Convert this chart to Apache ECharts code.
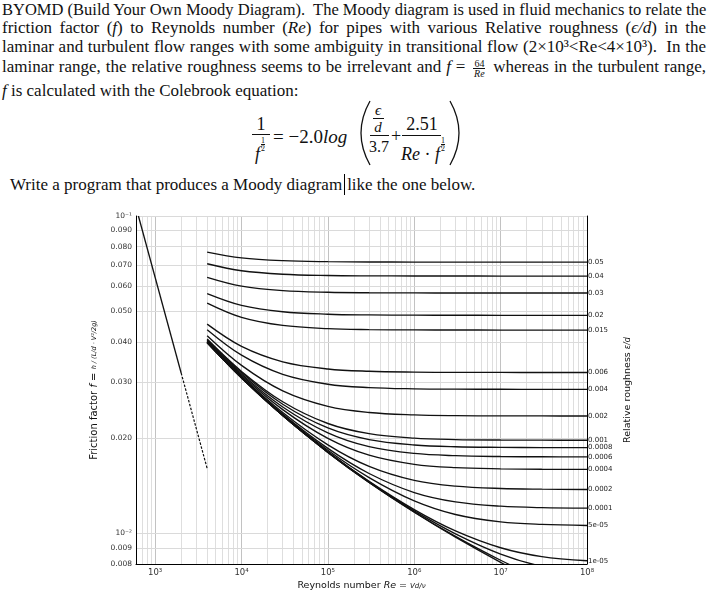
<!DOCTYPE html>
<html><head><meta charset="utf-8">
<script src="https://cdn.jsdelivr.net/npm/echarts@6/dist/echarts.min.js"></script>
<style>
html,body{margin:0;padding:0;background:#fff;}
#page{position:relative;width:711px;height:597px;overflow:hidden;font-family:"Liberation Serif","DejaVu Serif",serif;color:#111;}
.ln{position:absolute;left:2px;width:704px;font-size:17px;line-height:20px;white-space:nowrap;text-align:justify;text-align-last:justify;}
.ln.last{text-align:left;text-align-last:left;}
.fr{display:inline-block;vertical-align:middle;font-size:10px;line-height:9px;text-align:center;text-align-last:center;margin:0 3px;}
.fr .n{display:block;border-bottom:1px solid #111;padding:0 1px;}
.fr .d{display:block;font-style:italic;}
.e{position:absolute;transform:translate(-50%,-50%);font-size:18px;line-height:1;white-space:nowrap;}
.el{position:absolute;transform:translateY(-50%);font-size:19px;line-height:1;white-space:nowrap;}
.hf{display:inline-block;font-size:8px;line-height:7px;vertical-align:9px;text-align:center;margin-left:1px;}
.hf span{display:block}
.hf .t{border-bottom:1px solid #111;}
.cur{display:inline-block;width:0;height:21px;border-left:1px solid #000;vertical-align:-5px;margin:0 2px;}
#chart{position:absolute;left:0;top:0;width:711px;height:597px;}
</style></head>
<body>
<div id="page">
  <div class="ln j" style="top:0px">BYOMD (Build Your Own Moody Diagram).&nbsp; The Moody diagram is used in fluid mechanics to relate the</div>
  <div class="ln j" style="top:18px">friction factor (<i>f</i>) to Reynolds number (<i>Re</i>) for pipes with various Relative roughness (<i>ϵ/d</i>) in the</div>
  <div class="ln j" style="top:37px">laminar and turbulent flow ranges with some ambiguity in transitional flow (2×10³&lt;Re&lt;4×10³).&nbsp; In the</div>
  <div class="ln j" style="top:57px">laminar range, the relative roughness seems to be irrelevant and <i>f</i> = <span class="fr"><span class="n">64</span><span class="d">Re</span></span> whereas in the turbulent range,</div>
  <div class="ln last" style="top:81px"><i>f</i> is calculated with the Colebrook equation:</div>

  <svg width="711" height="200" style="position:absolute;left:0;top:0">
    <g stroke="#111" fill="none" stroke-width="1">
      <line x1="252" y1="134.5" x2="270" y2="134.5"/>
      <line x1="373" y1="118.5" x2="384" y2="118.5"/>
      <line x1="370" y1="135.5" x2="389" y2="135.5"/>
      <line x1="402" y1="135.5" x2="441" y2="135.5"/>
      <path d="M370,101 Q352,133 370,165" stroke-width="1.3"/>
      <path d="M450,101 Q468,133 450,165" stroke-width="1.3"/>
    </g>
  </svg>
  <div class="e" style="left:261px;top:124px">1</div>
  <div class="e" style="left:260px;top:150px"><i>f</i><span class="hf"><span class="t">1</span><span>2</span></span></div>
  <div class="el" style="left:273px;top:136px">=&nbsp;−2.0<i>log</i></div>
  <div class="e" style="left:378px;top:110px;font-size:15px"><i>ϵ</i></div>
  <div class="e" style="left:378px;top:127px;font-size:15px"><i>d</i></div>
  <div class="e" style="left:379px;top:147px;font-size:16px">3.7</div>
  <div class="e" style="left:396px;top:136px">+</div>
  <div class="e" style="left:422px;top:124px">2.51</div>
  <div class="e" style="left:423px;top:150px"><i>Re</i> · <i>f</i><span class="hf"><span class="t">1</span><span>2</span></span></div>

  <div class="ln last" style="left:10px;top:174px">Write a program that produces a Moody diagram<span class="cur"></span>like the one below.</div>

  <div id="chart"></div>
</div>
<script>
// ---- data ----
const reSamples = [4000, 10000, 30000, 100000, 300000, 1000000, 3000000, 10000000, 30000000, 100000000];
const roughnessLabels = ['0.05','0.04','0.03','0.02','0.015','0.006','0.004','0.002','0.001','0.0008','0.0006','0.0004','0.0002','0.0001','5e-05','1e-05','5e-06','1e-06','0'];
const f_0_05   = [0.07698, 0.07380, 0.07231, 0.07178, 0.07163, 0.07157, 0.07156, 0.07155, 0.07155, 0.07155];
const f_0_04   = [0.07071, 0.06720, 0.06553, 0.06493, 0.06476, 0.06470, 0.06468, 0.06467, 0.06467, 0.06467];
const f_0_03   = [0.06408, 0.06010, 0.05818, 0.05748, 0.05728, 0.05721, 0.05719, 0.05718, 0.05718, 0.05718];
const f_0_02   = [0.05695, 0.05228, 0.04991, 0.04903, 0.04877, 0.04868, 0.04865, 0.04864, 0.04864, 0.04864];
const f_0_015  = [0.05316, 0.04793, 0.04519, 0.04415, 0.04385, 0.04374, 0.04371, 0.04370, 0.04369, 0.04369];
const f_0_006  = [0.04561, 0.03881, 0.03471, 0.03295, 0.03240, 0.03220, 0.03214, 0.03213, 0.03212, 0.03212];
const f_0_004  = [0.04379, 0.03641, 0.03168, 0.02949, 0.02879, 0.02853, 0.02845, 0.02843, 0.02842, 0.02842];
const f_0_002  = [0.04193, 0.03381, 0.02810, 0.02511, 0.02402, 0.02361, 0.02348, 0.02344, 0.02343, 0.02342];
const f_0_001  = [0.04093, 0.03237, 0.02598, 0.02218, 0.02060, 0.01994, 0.01974, 0.01967, 0.01965, 0.01964];
const f_0_0008 = [0.04072, 0.03209, 0.02550, 0.02147, 0.01973, 0.01898, 0.01873, 0.01865, 0.01862, 0.01861];
const f_0_0006 = [0.04052, 0.03178, 0.02501, 0.02073, 0.01875, 0.01785, 0.01756, 0.01745, 0.01742, 0.01741];
const f_0_0004 = [0.04031, 0.03149, 0.02453, 0.01991, 0.01762, 0.01649, 0.01610, 0.01596, 0.01591, 0.01589];
const f_0_0002 = [0.04010, 0.03119, 0.02402, 0.01900, 0.01625, 0.01468, 0.01408, 0.01384, 0.01377, 0.01374];
const f_0_0001 = [0.04001, 0.03104, 0.02375, 0.01851, 0.01543, 0.01344, 0.01256, 0.01217, 0.01204, 0.01200];
const f_5e_5   = [0.03995, 0.03097, 0.02362, 0.01826, 0.01498, 0.01265, 0.01146, 0.01086, 0.01066, 0.01058];
const f_1e_5   = [0.03992, 0.03090, 0.02351, 0.01805, 0.01457, 0.01187, 0.01017, 0.00900, 0.00844, 0.00819];
const f_5e_6   = [0.03991, 0.03089, 0.02350, 0.01802, 0.01452, 0.01176, 0.00996, 0.00860, 0.00786, 0.00747];
const f_1e_6   = [0.03991, 0.03088, 0.02349, 0.01799, 0.01447, 0.01167, 0.00977, 0.00822, 0.00718, 0.00644];
const f_smooth = [0.03991, 0.03088, 0.02349, 0.01799, 0.01446, 0.01165, 0.00972, 0.00810, 0.00695, 0.00594];
const turbulentCurves = [f_0_05, f_0_04, f_0_03, f_0_02, f_0_015, f_0_006, f_0_004, f_0_002, f_0_001, f_0_0008,
  f_0_0006, f_0_0004, f_0_0002, f_0_0001, f_5e_5, f_1e_5, f_5e_6, f_1e_6, f_smooth];
const labelledCurveCount = 16;

const laminarRe = [640, 2000, 4000];
const laminarF  = [0.1, 0.032, 0.016];

const yTickValues = [0.1, 0.09, 0.08, 0.07, 0.06, 0.05, 0.04, 0.03, 0.02, 0.01, 0.009, 0.008];
const yTickLabels = ['10⁻¹','0.090','0.080','0.070','0.060','0.050','0.040','0.030','0.020','10⁻²','0.009','0.008'];
const xTickValues = [1e3, 1e4, 1e5, 1e6, 1e7, 1e8];
const xTickLabels = ['10³','10⁴','10⁵','10⁶','10⁷','10⁸'];
const xMinorGrid = [700,800,900, 2e3,3e3,4e3,5e3,6e3,7e3,8e3,9e3, 2e4,3e4,4e4,5e4,6e4,7e4,8e4,9e4,
  2e5,3e5,4e5,5e5,6e5,7e5,8e5,9e5, 2e6,3e6,4e6,5e6,6e6,7e6,8e6,9e6, 2e7,3e7,4e7,5e7,6e7,7e7,8e7,9e7];

// ---- fit justified paragraph lines ----
document.querySelectorAll('.ln.j').forEach(el => {
  const probe = document.createElement('span');
  probe.style.cssText = 'position:absolute;visibility:hidden;white-space:nowrap;font-size:17px;font-family:inherit';
  probe.innerHTML = el.innerHTML;
  document.getElementById('page').appendChild(probe);
  const w = probe.offsetWidth;
  probe.remove();
  if (w > 704) {
    el.style.width = w + 'px';
    el.style.textAlignLast = 'left';
    el.style.transformOrigin = '0 0';
    el.style.transform = 'scaleX(' + (704 / w) + ')';
  }
});

const chart = echarts.init(document.getElementById('chart'), null, {renderer: 'canvas'});
const axisFont = 'DejaVu Sans';
const series = [];

series.push({
  type: 'line', data: [[1000, 0.05]], showSymbol: false, symbol: 'none', silent: true,
  lineStyle: {opacity: 0}, z: 1,
  markLine: {
    z: 1, silent: true, symbol: 'none', animation: false, precision: 6,
    lineStyle: {type: 'solid', color: '#dedede', width: 1},
    label: {show: false},
    data: xMinorGrid.map(v => ({xAxis: v}))
  }
});
series.push({
  type: 'line', data: [[1000, 0.05]], showSymbol: false, symbol: 'none', silent: true,
  lineStyle: {opacity: 0}, z: 1,
  markLine: {
    z: 1, silent: true, symbol: 'none', animation: false, precision: 6,
    lineStyle: {type: 'solid', color: '#c2c2c2', width: 1},
    data: xTickValues.map((v, i) => ({
      xAxis: v,
      label: {show: true, position: 'start', formatter: xTickLabels[i], color: '#333', fontSize: 8.5, fontFamily: axisFont, distance: 4}
    })).concat(yTickValues.map((v, i) => ({
      yAxis: v,
      lineStyle: {color: '#dadada', width: 1.2},
      label: {show: true, position: 'start', formatter: yTickLabels[i], color: '#333', fontSize: 7.5, fontFamily: axisFont, distance: 4}
    })))
  }
});

turbulentCurves.forEach((curve, i) => {
  series.push({
    type: 'line',
    data: reSamples.map((r, j) => [r, curve[j]]),
    smooth: 0.35, symbol: 'none', showSymbol: false, clip: true, z: 10,
    lineStyle: {color: '#111', width: 1.35},
    endLabel: {
      show: i < labelledCurveCount, formatter: roughnessLabels[i], distance: 1,
      fontSize: 7, color: '#222', fontFamily: axisFont
    }
  });
});

series.push({
  type: 'line', data: [[laminarRe[0], laminarF[0]], [laminarRe[1], laminarF[1]]],
  symbol: 'none', showSymbol: false, z: 10, lineStyle: {color: '#111', width: 1.3}
});
series.push({
  type: 'line', data: [[laminarRe[1], laminarF[1]], [laminarRe[2], laminarF[2]]],
  symbol: 'none', showSymbol: false, z: 10, lineStyle: {color: '#111', width: 1.2, type: [2.5, 1.5]}
});

chart.setOption({
  animation: false,
  backgroundColor: 'transparent',
  grid: {left: 136, right: 124, top: 216, bottom: 33, containLabel: false, outerBoundsMode: 'none'},
  xAxis: {
    type: 'log', logBase: 10, min: 600, max: 1e8, z: 20,
    axisLine: {lineStyle: {color: '#000', width: 1}},
    axisTick: {show: false}, axisLabel: {show: false}, splitLine: {show: false}, minorSplitLine: {show: false},
    name: 'Reynolds number {i|Re} = {s|Vd/ν}', nameLocation: 'middle', nameGap: 17,
    nameTextStyle: {fontFamily: axisFont, fontSize: 9.5, color: '#111',
      rich: {i: {fontStyle: 'italic', fontFamily: axisFont, fontSize: 9.5}, s: {fontStyle: 'italic', fontFamily: axisFont, fontSize: 7}}}
  },
  yAxis: [{
    type: 'log', logBase: 10, min: 0.008, max: 0.1, position: 'left', z: 20,
    axisLine: {show: true, lineStyle: {color: '#000', width: 1}},
    axisTick: {show: false}, axisLabel: {show: false}, splitLine: {show: false},
    name: 'Friction factor {i|f} = {s|h / (L/d · V²/2g)}', nameLocation: 'middle', nameGap: 37, nameRotate: 90,
    nameTextStyle: {fontFamily: axisFont, fontSize: 10, color: '#111',
      rich: {i: {fontStyle: 'italic', fontFamily: axisFont, fontSize: 10}, s: {fontStyle: 'italic', fontFamily: axisFont, fontSize: 6.5}}}
  }, {
    type: 'log', logBase: 10, min: 0.008, max: 0.1, position: 'right', z: 20,
    axisLine: {show: true, lineStyle: {color: '#000', width: 1}},
    axisTick: {show: false}, axisLabel: {show: false}, splitLine: {show: false},
    name: 'Relative roughness {i|ε/d}', nameLocation: 'middle', nameGap: 36, nameRotate: 90,
    nameTextStyle: {fontFamily: axisFont, fontSize: 9.5, color: '#111',
      rich: {i: {fontStyle: 'italic', fontFamily: axisFont, fontSize: 8}}}
  }],
  series: series
});
</script>
</body></html>
